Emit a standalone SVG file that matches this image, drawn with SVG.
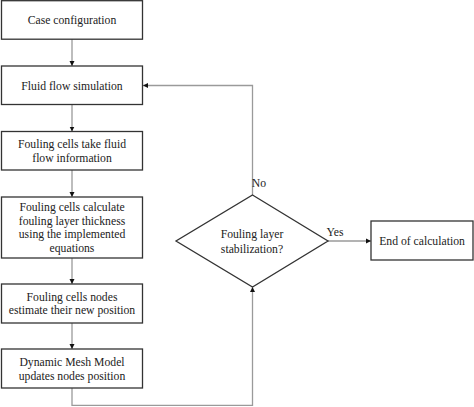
<svg xmlns="http://www.w3.org/2000/svg" width="474" height="407" viewBox="0 0 474 407">
<defs>
<style>
.box{fill:#fff;stroke:#333;stroke-width:1.3}
.t{font-family:"Liberation Serif","Times New Roman",serif;font-size:11.7px;fill:#222;text-anchor:middle;dominant-baseline:central}
.c{fill:none;stroke:#9a9a9a;stroke-width:1.3}
</style>
<marker id="ah" markerWidth="6" markerHeight="6" refX="5" refY="3" orient="auto" markerUnits="userSpaceOnUse">
<path d="M0,0.5 L5,3 L0,5.5 Z" fill="#111"/>
</marker>
</defs>
<rect width="474" height="407" fill="#fff"/>
<g id="connectors">
<line class="c" x1="72" y1="39" x2="72" y2="66" marker-end="url(#ah)"/>
<line class="c" x1="72" y1="104.5" x2="72" y2="131.5" marker-end="url(#ah)"/>
<line class="c" x1="72" y1="170" x2="72" y2="197" marker-end="url(#ah)"/>
<line class="c" x1="72" y1="258" x2="72" y2="284" marker-end="url(#ah)"/>
<line class="c" x1="72" y1="323" x2="72" y2="349" marker-end="url(#ah)"/>
<polyline class="c" points="72,388 72,405.3 252.5,405.3 252.5,287" marker-end="url(#ah)"/>
<polyline class="c" points="252.5,195 252.5,85.5 143,85.5" marker-end="url(#ah)"/>
<line class="c" x1="328" y1="241" x2="371" y2="241" marker-end="url(#ah)"/>
<text class="t" x="259" y="183.5" text-anchor="start">No</text>
<text class="t" x="335" y="232.5">Yes</text>
</g>
<g id="n1"><rect class="box" x="1.5" y="0.7" width="141" height="38.5"/><text class="t" x="72" y="20">Case configuration</text></g>
<g id="n2"><rect class="box" x="1.5" y="66" width="141" height="38.5"/><text class="t" x="72" y="86">Fluid flow simulation</text></g>
<g id="n3"><rect class="box" x="1.5" y="131.5" width="141" height="38.5"/><text class="t" x="72" y="144.5">Fouling cells take fluid</text><text class="t" x="72" y="158">flow information</text></g>
<g id="n4"><rect class="box" x="1.5" y="197" width="141" height="61"/><text class="t" x="72" y="207">Fouling cells calculate</text><text class="t" x="72" y="221">fouling layer thickness</text><text class="t" x="72" y="234.5">using the implemented</text><text class="t" x="72" y="248.5">equations</text></g>
<g id="n5"><rect class="box" x="1.5" y="284" width="141" height="39"/><text class="t" x="72" y="297.8">Fouling cells nodes</text><text class="t" x="72" y="310.5">estimate their new position</text></g>
<g id="n6"><rect class="box" x="1.5" y="349" width="141" height="39"/><text class="t" x="72" y="362.8">Dynamic Mesh Model</text><text class="t" x="72" y="376">updates nodes position</text></g>
<g id="n7"><polygon class="box" points="252.5,195 328,241 252.5,287 176,241"/><text class="t" x="252" y="234">Fouling layer</text><text class="t" x="252" y="249.3">stabilization?</text></g>
<g id="n8"><rect class="box" x="371" y="221" width="102" height="39"/><text class="t" x="422" y="241">End of calculation</text></g>
</svg>
